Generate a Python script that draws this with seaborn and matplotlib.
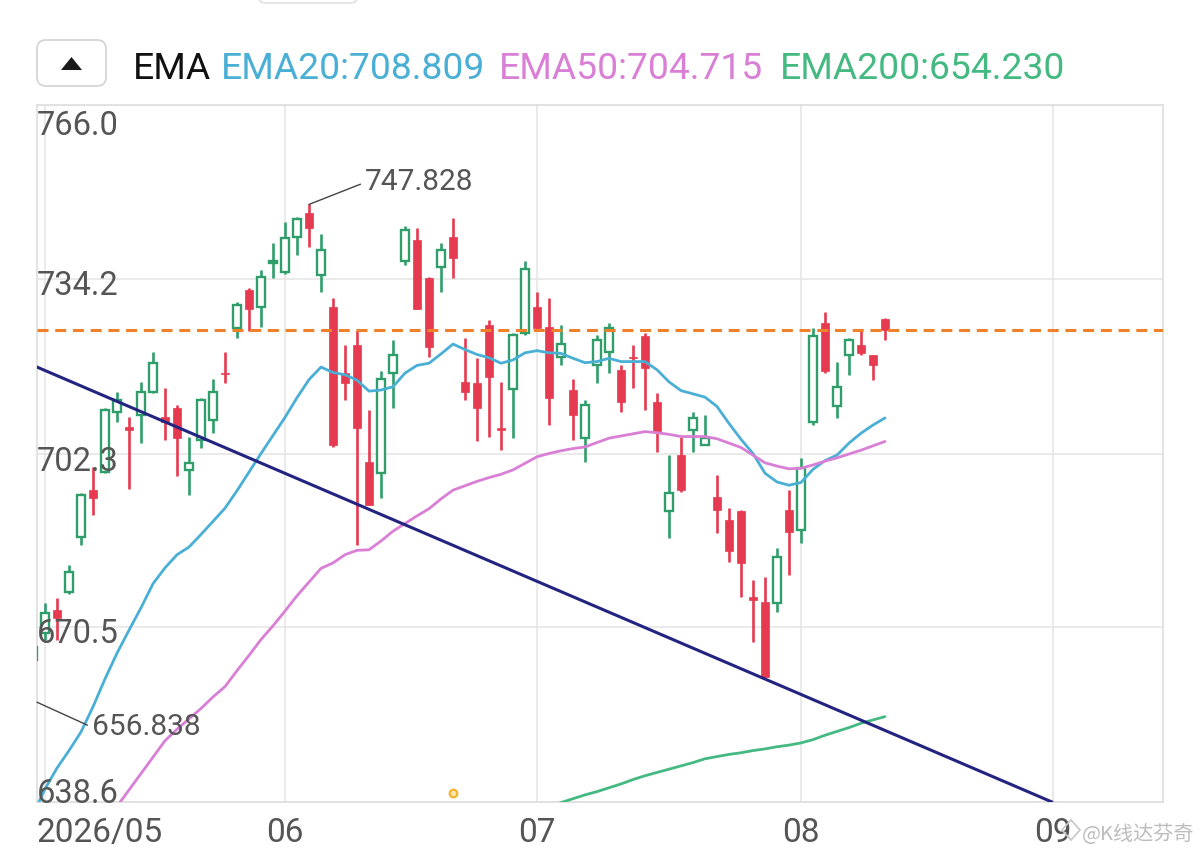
import matplotlib
matplotlib.use("Agg")
import matplotlib.pyplot as plt
from matplotlib.patches import FancyBboxPatch, Polygon
import numpy as np
import seaborn as sns

# trading-day index, 0 = 2026/05/01 (first candle is the last April session)
first_idx = -1
opens = [664.6, 669.4, 673.7, 677.0, 687.1, 695.6, 699.0, 709.9, 707.2, 709.3, 713.6,
         709.0, 710.6, 699.3, 704.8, 708.4, 717.1, 725.2, 732.2, 729.1, 737.2, 735.5,
         741.9, 746.2, 734.9, 729.1, 717.0, 722.1, 700.8, 698.7, 717.0, 737.4, 741.3,
         734.3, 736.4, 741.9, 715.4, 715.1, 725.8, 706.9, 714.0, 724.3, 729.1, 725.5,
         720.0, 713.9, 705.1, 718.5, 720.9, 717.6, 720.0, 723.7, 711.8, 691.7, 702.0,
         706.6, 703.9, 694.4, 690.1, 691.7, 676.0, 675.2, 674.9, 692.0, 688.3, 708.1,
         726.1, 710.9, 720.3, 722.1, 720.3, 726.8]
highs = [667.5, 674.9, 675.9, 681.9, 695.0, 699.9, 710.6, 713.6, 709.0, 715.4, 720.9,
         714.2, 711.2, 705.4, 712.4, 716.0, 720.9, 730.0, 732.5, 735.8, 740.7, 744.7,
         745.6, 747.828, 742.5, 730.7, 722.1, 724.9, 710.3, 717.3, 723.0, 743.8, 743.5,
         734.6, 740.7, 745.3, 723.4, 719.7, 726.7, 715.4, 724.4, 737.4, 731.9, 730.7,
         725.8, 716.0, 712.1, 724.0, 726.1, 718.5, 722.1, 724.3, 713.3, 702.0, 705.4,
         709.9, 709.3, 698.4, 692.3, 692.0, 679.2, 679.8, 685.0, 695.6, 701.4, 725.2,
         728.2, 719.1, 723.4, 724.6, 720.3, 727.0]
lows = [663.5, 668.2, 668.2, 676.7, 685.6, 691.1, 698.8, 708.1, 695.9, 704.2, 713.3,
        704.8, 698.1, 694.7, 703.3, 706.0, 715.1, 723.4, 724.6, 725.5, 734.3, 735.2,
        738.6, 740.1, 731.9, 703.5, 712.1, 685.6, 692.9, 694.1, 710.6, 736.8, 728.8,
        720.0, 731.9, 734.3, 712.1, 704.5, 705.4, 702.9, 705.1, 724.0, 724.6, 707.5,
        718.5, 704.8, 700.8, 715.1, 717.0, 709.9, 714.2, 710.3, 702.6, 686.8, 695.3,
        702.6, 703.9, 687.7, 682.5, 676.1, 667.9, 661.5, 673.4, 680.1, 685.9, 707.5,
        717.0, 708.7, 716.6, 720.3, 715.7, 723.0]
closes = [667.0, 673.1, 672.2, 680.7, 694.7, 694.1, 710.3, 712.1, 706.6, 713.6, 718.8,
          708.1, 705.1, 700.5, 712.1, 713.6, 716.8, 729.4, 728.8, 734.6, 737.5, 741.6,
          745.1, 743.5, 739.5, 703.9, 715.2, 706.9, 692.9, 716.0, 720.3, 743.2, 728.8,
          721.8, 739.5, 738.0, 713.6, 710.6, 716.3, 706.6, 724.0, 736.1, 725.2, 712.4,
          722.4, 709.3, 711.2, 723.0, 725.2, 711.8, 719.7, 717.9, 706.3, 695.0, 695.6,
          708.7, 705.1, 692.0, 684.4, 682.2, 675.5, 661.5, 683.4, 688.0, 699.6, 723.7,
          717.3, 714.5, 723.0, 720.6, 718.5, 724.9]

# EMA lines, one value per candle from the given start index
ema20_start = -1
ema20 = [636.3, 641.0, 644.8, 648.0, 651.4, 656.0, 661.1, 665.8, 670.0, 674.1, 678.5,
         681.4, 683.8, 685.2, 687.5, 689.9, 692.3, 695.5, 698.9, 702.3, 705.6, 708.9,
         712.5, 715.8, 718.1, 717.1, 716.7, 715.7, 713.7, 713.9, 714.5, 717.0, 718.4,
         718.8, 720.5, 722.3, 721.3, 720.4, 719.8, 718.8, 719.4, 720.7, 721.1, 720.7,
         720.6, 719.7, 718.9, 719.1, 719.7, 719.1, 719.1, 719.1, 717.6, 715.4, 713.8,
         713.2, 712.6, 710.9, 707.8, 704.9, 702.3, 698.7, 697.1, 696.5, 697.0, 699.4,
         701.0, 702.0, 704.2, 706.0, 707.5, 708.8]
ema50_start = 5
ema50 = [635.0, 637.8, 640.8, 643.8, 646.8, 649.8, 651.9, 653.8, 655.7, 657.8, 659.7,
         662.6, 665.4, 668.3, 670.8, 673.5, 676.3, 678.8, 681.3, 682.3, 683.8, 684.6,
         684.7, 686.3, 688.1, 689.5, 690.9, 692.2, 694.0, 695.6, 696.4, 697.2, 697.9,
         698.5, 699.3, 700.5, 701.7, 702.3, 702.8, 703.2, 703.5, 704.3, 705.1, 705.5,
         705.9, 706.3, 706.1, 705.8, 705.4, 705.4, 705.4, 705.0, 704.2, 703.4, 702.0,
         700.6, 700.0, 699.5, 699.6, 700.2, 700.9, 701.5, 702.2, 702.9, 703.7, 704.5]
ema200_start = 42
ema200 = [637.7, 638.5, 639.2, 639.9, 640.5, 641.2, 641.9, 642.7, 643.4, 644.0, 644.6,
          645.2, 645.8, 646.5, 646.9, 647.3, 647.6, 648.0, 648.3, 648.7, 649.0, 649.4,
          650.0, 650.8, 651.5, 652.2, 653.0, 653.6, 654.2]
ema_names = ["EMA20", "EMA50", "EMA200"]
ema_last = ["708.809", "704.715", "654.230"]

# hand-drawn trend line (two anchors)
trend_x = [-0.67, 83.92]
trend_y = [718.1, 638.6]

y_ticks = [638.6, 670.5, 702.3, 734.2, 766.0]
month_idx = [0, 20, 41, 63, 84]
month_labels = ["2026/05", "06", "07", "08", "09"]

high_label = "747.828"
high_idx = 22
low_label = "656.838"
low_value = 656.838
event_idx = 34
event_value = 640.3

GREEN = "#2f9e6a"
RED = "#e63a50"
C20 = "#4aafd4"
C50 = "#d97fd5"
C200 = "#44b981"
TXT = "#555555"

sns.set_theme(style="white")
plt.rcParams["font.family"] = ["Roboto", "DejaVu Sans"]

W, H = 1200, 863
fig = plt.figure(figsize=(W / 100, H / 100), dpi=100)
ax = fig.add_axes([37 / W, (H - 802) / H, 1126 / W, 697 / H])


def px(x, y):
    # pixel (from top-left) -> inches for fig.dpi_scale_trans
    return (x / 100, (H - y) / 100)


o = np.array(opens)
h = np.array(highs)
l = np.array(lows)
c = np.array(closes)
idx = np.arange(first_idx, first_idx + len(o))
up = c >= o

ax.vlines(idx[up], l[up], h[up], color=GREEN, lw=1.9, zorder=2)
ax.vlines(idx[~up], l[~up], h[~up], color=RED, lw=1.9, zorder=2)
body_h = np.maximum(np.abs(c - o), 0.3)
ax.bar(idx[up], body_h[up], bottom=np.minimum(o, c)[up], width=0.66,
       facecolor="white", edgecolor=GREEN, linewidth=1.7, zorder=3)
ax.bar(idx[~up], body_h[~up], bottom=np.minimum(o, c)[~up], width=0.72,
       facecolor=RED, edgecolor=RED, linewidth=0.5, zorder=3)

for start, vals, col in [(ema20_start, ema20, C20), (ema50_start, ema50, C50),
                         (ema200_start, ema200, C200)]:
    xs = np.arange(start, start + len(vals))
    sns.lineplot(x=xs, y=vals, ax=ax, color=col, lw=2.0, zorder=4, legend=False)

ax.plot(trend_x, trend_y, color="#232380", lw=2.2, zorder=5)
ax.axhline(c[-1], color="#f0812b", lw=2.2, dashes=(3.6, 2.2), zorder=5)

ax.scatter([event_idx], [event_value], s=30, facecolor="#fde7ae",
           edgecolor="#f4b531", lw=1.6, zorder=6, clip_on=False)

ax.set_xlim(-0.667, 93.17)
ax.set_ylim(y_ticks[0], y_ticks[-1])
ax.set_yticks(y_ticks)
ax.set_xticks(month_idx)
ax.tick_params(labelbottom=False, labelleft=False, length=0)
ax.grid(True, color="#e6e6e6", lw=1.2)
for sp in ax.spines.values():
    sp.set_color("#dedede")
    sp.set_linewidth(1.2)

# y labels inside the plot
y_off = [-1, -16, -17, -16, -30]
for v, dy in zip(y_ticks, y_off):
    ax.annotate(f"{v:.1f}", xy=(0, v), xycoords=("axes fraction", "data"),
                xytext=(0, dy * 0.72), textcoords="offset points",
                ha="left", va="baseline", fontsize=23.5, color=TXT, zorder=7)

# month labels
for i, (m, lab) in enumerate(zip(month_idx, month_labels)):
    if i == 0:
        ax.annotate(lab, xy=(0, 0), xycoords="axes fraction",
                    xytext=(0, -40 * 0.72), textcoords="offset points",
                    ha="left", va="baseline", fontsize=24, color=TXT,
                    annotation_clip=False)
    else:
        ax.annotate(lab, xy=(m, 0), xycoords=("data", "axes fraction"),
                    xytext=(0, -40 * 0.72), textcoords="offset points",
                    ha="center", va="baseline", fontsize=24, color=TXT,
                    annotation_clip=False)

# extreme value callouts
ax.annotate(high_label, xy=(high_idx, highs[high_idx - first_idx]),
            xytext=(56 * 0.72, 22 * 0.72), textcoords="offset points",
            ha="left", va="center", fontsize=21.5, color=TXT, zorder=7,
            arrowprops=dict(arrowstyle="-", color="#444444", lw=1.0,
                            shrinkA=1, shrinkB=0, relpos=(0, 0.5)))
ax.annotate(low_label, xy=(0, low_value), xycoords=("axes fraction", "data"),
            xytext=(55 * 0.72, -25 * 0.72), textcoords="offset points",
            ha="left", va="center", fontsize=21.5, color=TXT, zorder=7,
            annotation_clip=False,
            arrowprops=dict(arrowstyle="-", color="#444444", lw=1.0,
                            shrinkA=1, shrinkB=0, relpos=(0, 0.5)))

# header
tr = fig.dpi_scale_trans
fig.add_artist(FancyBboxPatch(px(37, 86), 69 / 100, 46 / 100,
                              boxstyle="round,pad=0,rounding_size=0.09",
                              transform=tr, facecolor="white",
                              edgecolor="#d6d6d6", lw=1.3))
fig.add_artist(Polygon([px(61, 70), px(82, 70), px(71.5, 57)], closed=True,
                       transform=tr, facecolor="#1a1a1a", edgecolor="none"))
fig.add_artist(FancyBboxPatch(px(259, 3), 98 / 100, 20 / 100,
                              boxstyle="round,pad=0,rounding_size=0.06",
                              transform=tr, facecolor="white",
                              edgecolor="#e2e2e2", lw=1.2))
fig.text(*px(133, 79), "EMA", transform=tr, fontsize=26.8, color="#111111",
         va="baseline", ha="left")
for xpos, name, val, col in zip([221, 499, 780], ema_names, ema_last, [C20, C50, C200]):
    fig.text(*px(xpos, 79), f"{name}:{val}", transform=tr, fontsize=26.8,
             color=col, va="baseline", ha="left")

# watermark
fig.text(*px(1082, 840), "@K线达芬奇", transform=tr, fontsize=14.5, color="#bdbdbd",
         va="baseline", ha="left", family=["Noto Sans CJK SC", "DejaVu Sans"])
fig.add_artist(Polygon([px(1062, 830), px(1071, 820), px(1080, 830), px(1071, 840)],
                       closed=True, transform=tr, facecolor="none",
                       edgecolor="#c8c8c8", lw=1.2))

fig.savefig("out.png", dpi=100, facecolor="white")
